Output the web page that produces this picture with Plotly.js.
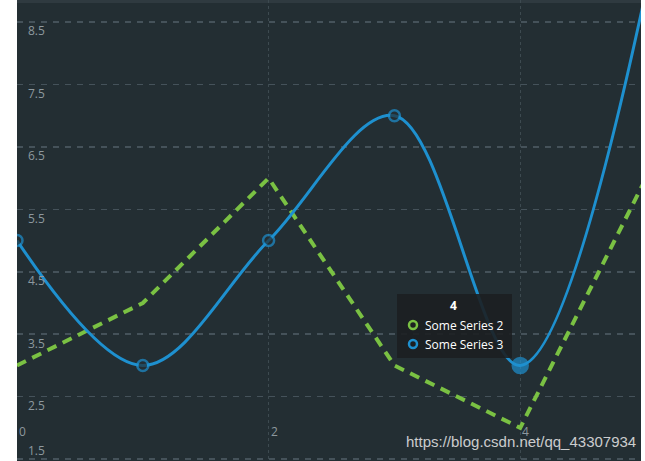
<!DOCTYPE html>
<html>
<head>
<meta charset="utf-8">
<script src="https://cdn.plot.ly/plotly-3.0.1.min.js"></script>
<style>
  html, body { margin: 0; padding: 0; background: #ffffff; }
  #chart { width: 645px; height: 461px; }
</style>
</head>
<body>
<div id="chart"></div>
<script>
// data
var xValues = [0, 1, 2, 3, 4, 5];
var series2 = [3, 4, 6, 3, 2, 6];
var series3 = [5, 3, 5, 7, 3, 9];
var seriesNames = ['Some Series 2', 'Some Series 3'];
var yTicks = [1.5, 2.5, 3.5, 4.5, 5.5, 6.5, 7.5, 8.5];
var xTicks = [0, 2, 4];
var hoverIndex = 4;

var W = 645, H = 461;
var ML = 17, MR = 4;
var bg = '#232e33';
var blue = '#1e90cf';
var green = '#7ac143';
var tickFont = { family: 'Open Sans', size: 12, color: '#8d989e' };

// pixel -> paper helpers for the tooltip overlay
function px(x) { return (x - ML) / (W - ML - MR); }
function py(y) { return 1 - y / H; }

var sizes = series3.map(function (v, i) { return i == hoverIndex ? 15 : 11; });
var fills = series3.map(function (v, i) { return i == hoverIndex ? blue : bg; });

var trace2 = {
    x: xValues,
    y: series2,
    name: seriesNames[0],
    type: 'scatter',
    mode: 'lines',
    line: { color: green, width: 4, dash: '10px,7px' },
    hoverinfo: 'none'
};

var trace3 = {
    x: xValues,
    y: series3,
    name: seriesNames[1],
    type: 'scatter',
    mode: 'lines+markers',
    line: { color: blue, width: 3, shape: 'spline', smoothing: 1 },
    marker: { size: sizes, color: fills, line: { color: blue, width: 2.5 } },
    hoverinfo: 'none'
};

// tooltip box drawn over the plot
var box = { x0: 397, x1: 512, y0: 294, y1: 358 };
var rowY = [325, 344];
var rowColors = [green, blue];

var shapes = [
    {
        type: 'rect', xref: 'paper', yref: 'paper',
        x0: 0, x1: 1, y0: py(3), y1: 1,
        fillcolor: '#2f3a40', line: { width: 0 }, layer: 'below'
    },
    {
        type: 'rect', xref: 'paper', yref: 'paper',
        x0: px(box.x0), x1: px(box.x1), y0: py(box.y1), y1: py(box.y0),
        fillcolor: 'rgba(28,31,33,0.9)', line: { width: 0 }, layer: 'above'
    }
];
rowY.forEach(function (y, i) {
    shapes.push({
        type: 'circle', xref: 'paper', yref: 'paper',
        xsizemode: 'pixel', ysizemode: 'pixel',
        xanchor: px(413), yanchor: py(y),
        x0: -4, x1: 4, y0: -4, y1: 4,
        fillcolor: '#1c1f21', line: { color: rowColors[i], width: 2.5 },
        layer: 'above'
    });
});

var annotations = [];

// tick labels sit inside the plot, under each grid line
yTicks.forEach(function (v, i) {
    annotations.push({
        xref: 'paper', yref: 'y', x: 0, y: v,
        xanchor: 'left', yanchor: 'middle',
        xshift: 9, yshift: i == 0 ? 9 : -9,
        text: v.toFixed(1), showarrow: false, font: tickFont
    });
});
xTicks.forEach(function (v) {
    annotations.push({
        xref: 'x', yref: 'paper', x: v, y: 0,
        xanchor: 'left', yanchor: 'middle',
        xshift: 0, yshift: 30,
        text: String(v), showarrow: false, font: tickFont
    });
});

annotations.push({
    xref: 'paper', yref: 'paper', x: 1, y: py(441),
    xanchor: 'right', yanchor: 'middle', xshift: -3,
    text: 'https://blog.csdn.net/qq_43307934', showarrow: false,
    font: { family: 'Liberation Sans', size: 15, color: 'rgba(235,235,235,0.85)' }
});
annotations.push({
    xref: 'paper', yref: 'paper', x: px(453), y: py(305),
    xanchor: 'center', yanchor: 'middle',
    text: '<b>' + xValues[hoverIndex] + '</b>', showarrow: false,
    font: { family: 'Open Sans', size: 12, color: '#ffffff' }
});
rowY.forEach(function (y, i) {
    annotations.push({
        xref: 'paper', yref: 'paper', x: px(423), y: py(y),
        xanchor: 'left', yanchor: 'middle',
        text: seriesNames[i], showarrow: false,
        font: { family: 'Open Sans', size: 12, color: '#ffffff' }
    });
});

var layout = {
    width: W,
    height: H,
    margin: { l: ML, r: MR, t: 0, b: 0 },
    paper_bgcolor: '#ffffff',
    plot_bgcolor: bg,
    showlegend: false,
    xaxis: {
        range: [0, 4.96],
        tickvals: xTicks,
        showticklabels: false,
        ticks: '',
        showgrid: true,
        gridcolor: '#3d4a50',
        griddash: 'dot',
        gridwidth: 1,
        zeroline: false,
        showline: false
    },
    yaxis: {
        range: [1.47, 8.852],
        tickvals: yTicks,
        showticklabels: false,
        ticks: '',
        showgrid: true,
        gridcolor: '#45525a',
        griddash: '6px,6px',
        gridwidth: 1.5,
        zeroline: false,
        showline: false
    },
    shapes: shapes,
    annotations: annotations
};

Plotly.newPlot('chart', [trace2, trace3], layout, { displayModeBar: false, staticPlot: true });
</script>
</body>
</html>
